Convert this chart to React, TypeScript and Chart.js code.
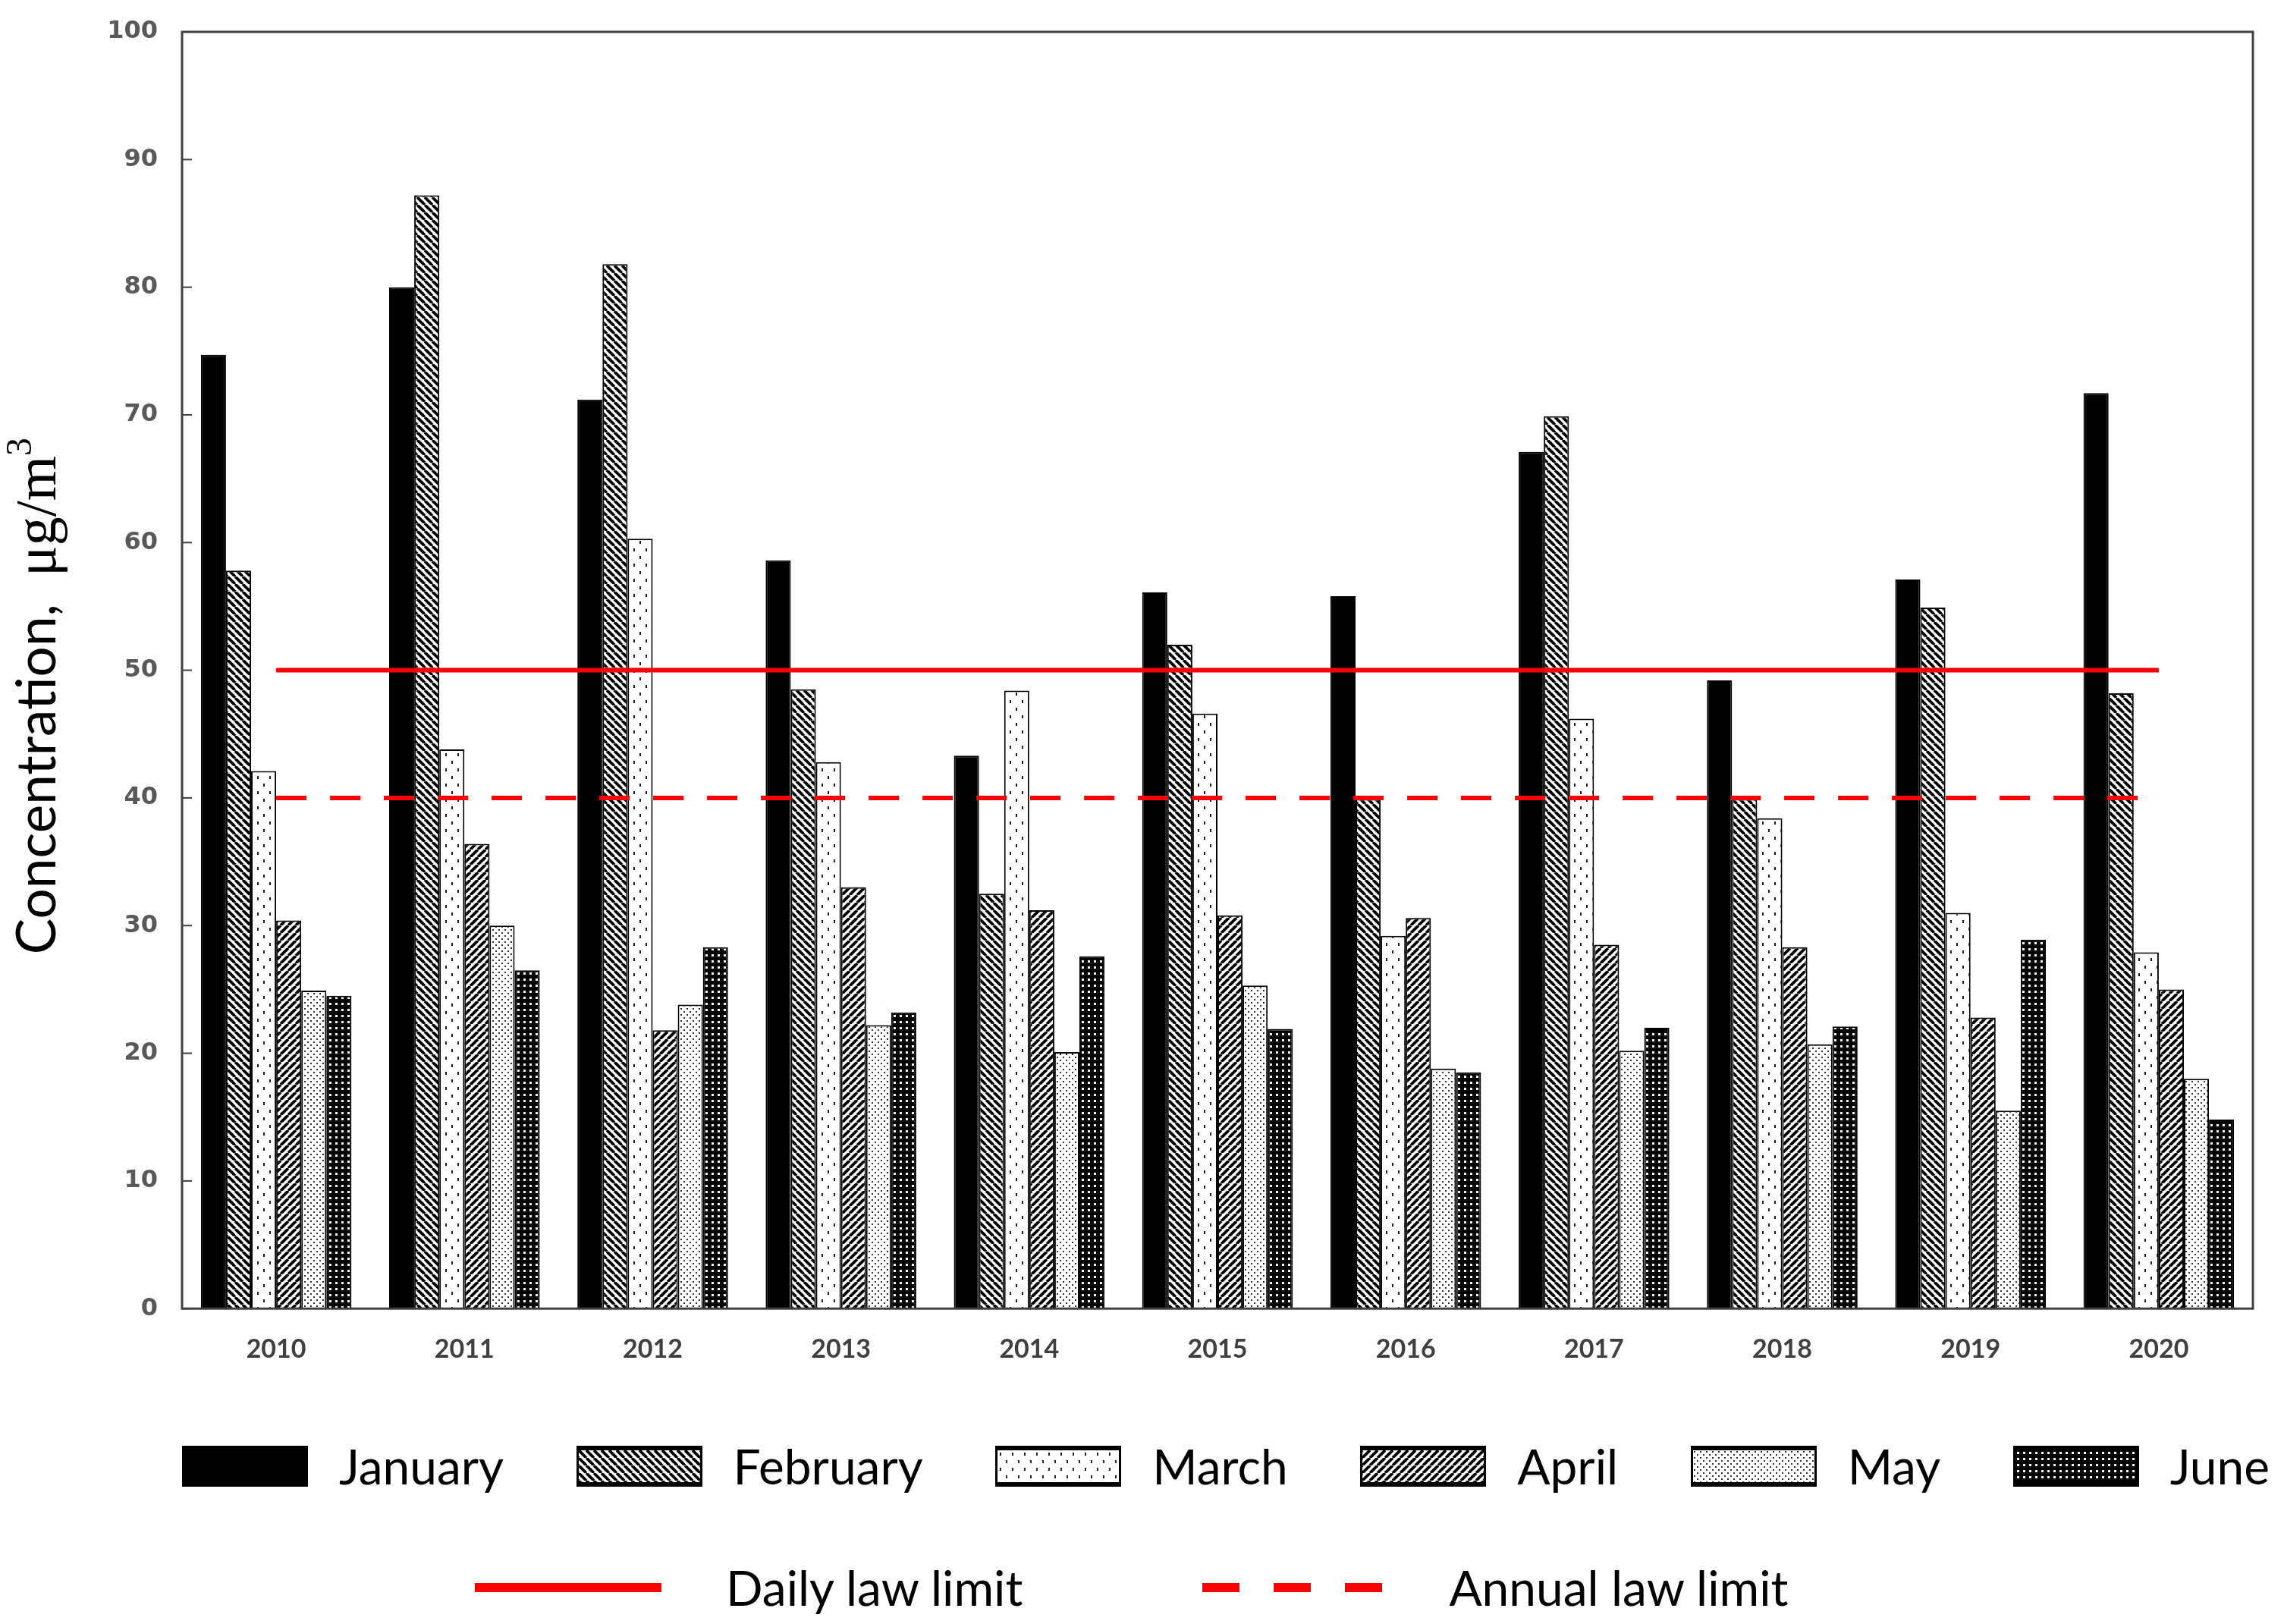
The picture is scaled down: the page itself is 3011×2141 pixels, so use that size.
import { useEffect, useMemo, useRef } from 'react';
import { Chart, registerables } from 'chart.js';

Chart.register(...registerables);

// values (µg/m³)
const years = ['2010', '2011', '2012', '2013', '2014', '2015', '2016', '2017', '2018', '2019', '2020'];
const january = [74.7, 80.0, 71.2, 58.6, 43.3, 56.1, 55.8, 67.1, 49.2, 57.1, 71.7];
const february = [57.8, 87.2, 81.8, 48.5, 32.5, 52.0, 39.9, 69.9, 39.9, 54.9, 48.2];
const march = [42.1, 43.8, 60.3, 42.8, 48.4, 46.6, 29.2, 46.2, 38.4, 31.0, 27.9];
const april = [30.4, 36.4, 21.8, 33.0, 31.2, 30.8, 30.6, 28.5, 28.3, 22.8, 25.0];
const may = [24.9, 30.0, 23.8, 22.2, 20.1, 25.3, 18.8, 20.2, 20.7, 15.5, 18.0];
const june = [24.5, 26.5, 28.3, 23.2, 27.6, 21.9, 18.5, 22.0, 22.1, 28.9, 14.8];
const dailyLimit = [50, 50, 50, 50, 50, 50, 50, 50, 50, 50, 50];
const annualLimit = [40, 40, 40, 40, 40, 40, 40, 40, 40, 40, 40];
const yTicks = [0, 10, 20, 30, 40, 50, 60, 70, 80, 90, 100];

type Fill = 'solid' | 'back' | 'sparseDots' | 'fwd' | 'fineDots' | 'darkDots';

const months: { label: string; data: number[]; fill: Fill }[] = [
  { label: 'January', data: january, fill: 'solid' },
  { label: 'February', data: february, fill: 'back' },
  { label: 'March', data: march, fill: 'sparseDots' },
  { label: 'April', data: april, fill: 'fwd' },
  { label: 'May', data: may, fill: 'fineDots' },
  { label: 'June', data: june, fill: 'darkDots' },
];

function makeTile(kind: Fill): HTMLCanvasElement {
  const c = document.createElement('canvas');
  const size: Record<Fill, [number, number]> = {
    solid: [4, 4],
    back: [10, 10],
    sparseDots: [16, 20],
    fwd: [10, 10],
    fineDots: [8, 8],
    darkDots: [8, 8],
  };
  const [w, h] = size[kind];
  c.width = w;
  c.height = h;
  const g = c.getContext('2d')!;
  g.fillStyle = kind === 'solid' || kind === 'darkDots' ? '#000' : '#fff';
  g.fillRect(0, 0, w, h);
  g.strokeStyle = '#000';
  g.fillStyle = '#000';
  if (kind === 'back' || kind === 'fwd') {
    g.lineWidth = 3.8;
    for (const o of [-w, 0, w]) {
      g.beginPath();
      if (kind === 'back') {
        g.moveTo(o, 0);
        g.lineTo(o + w, h);
      } else {
        g.moveTo(o, h);
        g.lineTo(o + w, 0);
      }
      g.stroke();
    }
  } else if (kind === 'sparseDots') {
    g.fillStyle = '#222';
    g.fillRect(3, 3, 2, 4);
    g.fillRect(11, 13, 2, 4);
  } else if (kind === 'fineDots') {
    g.fillStyle = '#333';
    g.fillRect(1, 1, 2, 2);
    g.fillRect(5, 5, 2, 2);
  } else if (kind === 'darkDots') {
    g.fillStyle = '#fff';
    g.fillRect(2, 2, 3, 3);
  }
  return c;
}

const framePlugin = {
  id: 'frame',
  afterDatasetsDraw(chart: Chart) {
    const { ctx, chartArea: a } = chart;
    const y = chart.scales.y;
    ctx.save();
    ctx.strokeStyle = '#404040';
    ctx.lineWidth = 3;
    ctx.strokeRect(a.left, a.top, a.right - a.left, a.bottom - a.top);
    ctx.lineWidth = 2;
    for (const t of y.ticks) {
      const py = y.getPixelForValue(t.value);
      ctx.beginPath();
      ctx.moveTo(a.left, py);
      ctx.lineTo(a.left + 13, py);
      ctx.stroke();
    }
    ctx.restore();
  },
};

// y title mixes a sans word with a serif unit, so it is drawn by hand
const yTitlePlugin = {
  id: 'yTitle',
  afterDraw(chart: Chart) {
    const { ctx, chartArea: a } = chart;
    const parts = [
      { text: 'Concentration,  ', font: '71px Lato', dy: 0 },
      { text: 'μg/m', font: '76px "Liberation Serif"', dy: 0 },
      { text: '3', font: '48px "Liberation Serif"', dy: -32 },
    ];
    ctx.save();
    ctx.fillStyle = '#000';
    ctx.textBaseline = 'alphabetic';
    ctx.textAlign = 'left';
    let total = 0;
    const widths = parts.map((p) => {
      ctx.font = p.font;
      const w = ctx.measureText(p.text).width;
      total += w;
      return w;
    });
    ctx.translate(73, (a.top + a.bottom) / 2 + 34);
    ctx.rotate(-Math.PI / 2);
    let x = -total / 2;
    parts.forEach((p, i) => {
      ctx.font = p.font;
      ctx.fillText(p.text, x, p.dy);
      x += widths[i];
    });
    ctx.restore();
  },
};

function BarChart() {
  const canvasRef = useRef<HTMLCanvasElement | null>(null);

  useEffect(() => {
    if (!canvasRef.current) return;
    const ctx = canvasRef.current.getContext('2d')!;
    const patternFor = (f: Fill) =>
      f === 'solid' ? '#000' : (ctx.createPattern(makeTile(f), 'repeat') as CanvasPattern);

    const chart = new Chart(canvasRef.current, {
      type: 'bar',
      data: {
        labels: years,
        datasets: [
          ...months.map((m) => ({
            type: 'bar' as const,
            label: m.label,
            data: m.data,
            backgroundColor: patternFor(m.fill),
            borderColor: '#000',
            borderWidth: 2,
            categoryPercentage: 0.8,
            barPercentage: 1.0,
            order: 1,
          })),
          {
            type: 'line' as const,
            label: 'Daily law limit',
            data: dailyLimit,
            borderColor: '#ff0000',
            borderWidth: 6,
            pointRadius: 0,
            fill: false,
            order: 0,
          },
          {
            type: 'line' as const,
            label: 'Annual law limit',
            data: annualLimit,
            borderColor: '#ff0000',
            borderWidth: 6,
            borderDash: [40, 31],
            pointRadius: 0,
            fill: false,
            order: 0,
          },
        ],
      },
      options: {
        animation: false,
        responsive: true,
        maintainAspectRatio: false,
        layout: { autoPadding: false, padding: { left: 0, right: 41, top: 42, bottom: 0 } },
        plugins: { legend: { display: false }, tooltip: { enabled: false } },
        scales: {
          x: {
            offset: true,
            grid: { display: false, drawTicks: false },
            border: { display: false },
            ticks: {
              color: '#404040',
              padding: 33,
              font: { family: 'Lato', weight: 'bold', size: 34 },
            },
          },
          y: {
            min: 0,
            max: 100,
            afterBuildTicks: (scale) => {
              scale.ticks = yTicks.map((v) => ({ value: v }));
            },
            afterFit: (scale) => {
              scale.width = 240;
              scale.paddingTop = 0;
              scale.paddingBottom = 0;
            },
            grid: { display: false, drawTicks: false },
            border: { display: false },
            ticks: {
              color: '#595959',
              padding: 32,
              font: { family: 'DejaVu Sans', weight: 'bold', size: 32 },
            },
          },
        },
      },
      plugins: [framePlugin, yTitlePlugin],
    });
    return () => chart.destroy();
  }, []);

  return (
    <div style={{ position: 'absolute', left: 0, top: 0, width: 3011, height: 1832 }}>
      <canvas ref={canvasRef} />
    </div>
  );
}

function Legend() {
  const swatches = useMemo(
    () =>
      months.map((m) =>
        m.fill === 'solid' ? '#000' : `url(${makeTile(m.fill).toDataURL()}) repeat`,
      ),
    [],
  );
  const text = { fontFamily: 'Lato', fontSize: 64, lineHeight: 1, color: '#000' };

  return (
    <>
      <div
        style={{
          position: 'absolute',
          left: 240,
          top: 1906,
          width: 2752,
          height: 54,
          display: 'flex',
          justifyContent: 'space-between',
          alignItems: 'center',
        }}
      >
        {months.map((m, i) => (
          <div key={m.label} style={{ display: 'flex', alignItems: 'center' }}>
            <div
              style={{
                width: 166,
                height: 54,
                boxSizing: 'border-box',
                background: swatches[i],
                borderStyle: 'solid',
                borderColor: '#000',
                borderWidth: '6px 3px',
                marginRight: 41,
              }}
            />
            <span style={text}>{m.label}</span>
          </div>
        ))}
      </div>
      <div
        style={{
          position: 'absolute',
          left: 626,
          top: 2053,
          height: 80,
          display: 'flex',
          alignItems: 'center',
        }}
      >
        <div style={{ width: 246, height: 12, background: '#ff0000', marginRight: 85 }} />
        <span style={text}>Daily law limit</span>
        <div
          style={{
            width: 244,
            height: 12,
            marginLeft: 237,
            marginRight: 81,
            background:
              'repeating-linear-gradient(to right, #ff0000 0px, #ff0000 49px, transparent 49px, transparent 94px)',
          }}
        />
        <span style={text}>Annual law limit</span>
      </div>
    </>
  );
}

export default function App() {
  return (
    <div
      style={{
        position: 'fixed',
        left: 0,
        top: 0,
        width: 3011,
        height: 2141,
        background: '#fff',
        overflow: 'hidden',
      }}
    >
      <BarChart />
      <Legend />
    </div>
  );
}
